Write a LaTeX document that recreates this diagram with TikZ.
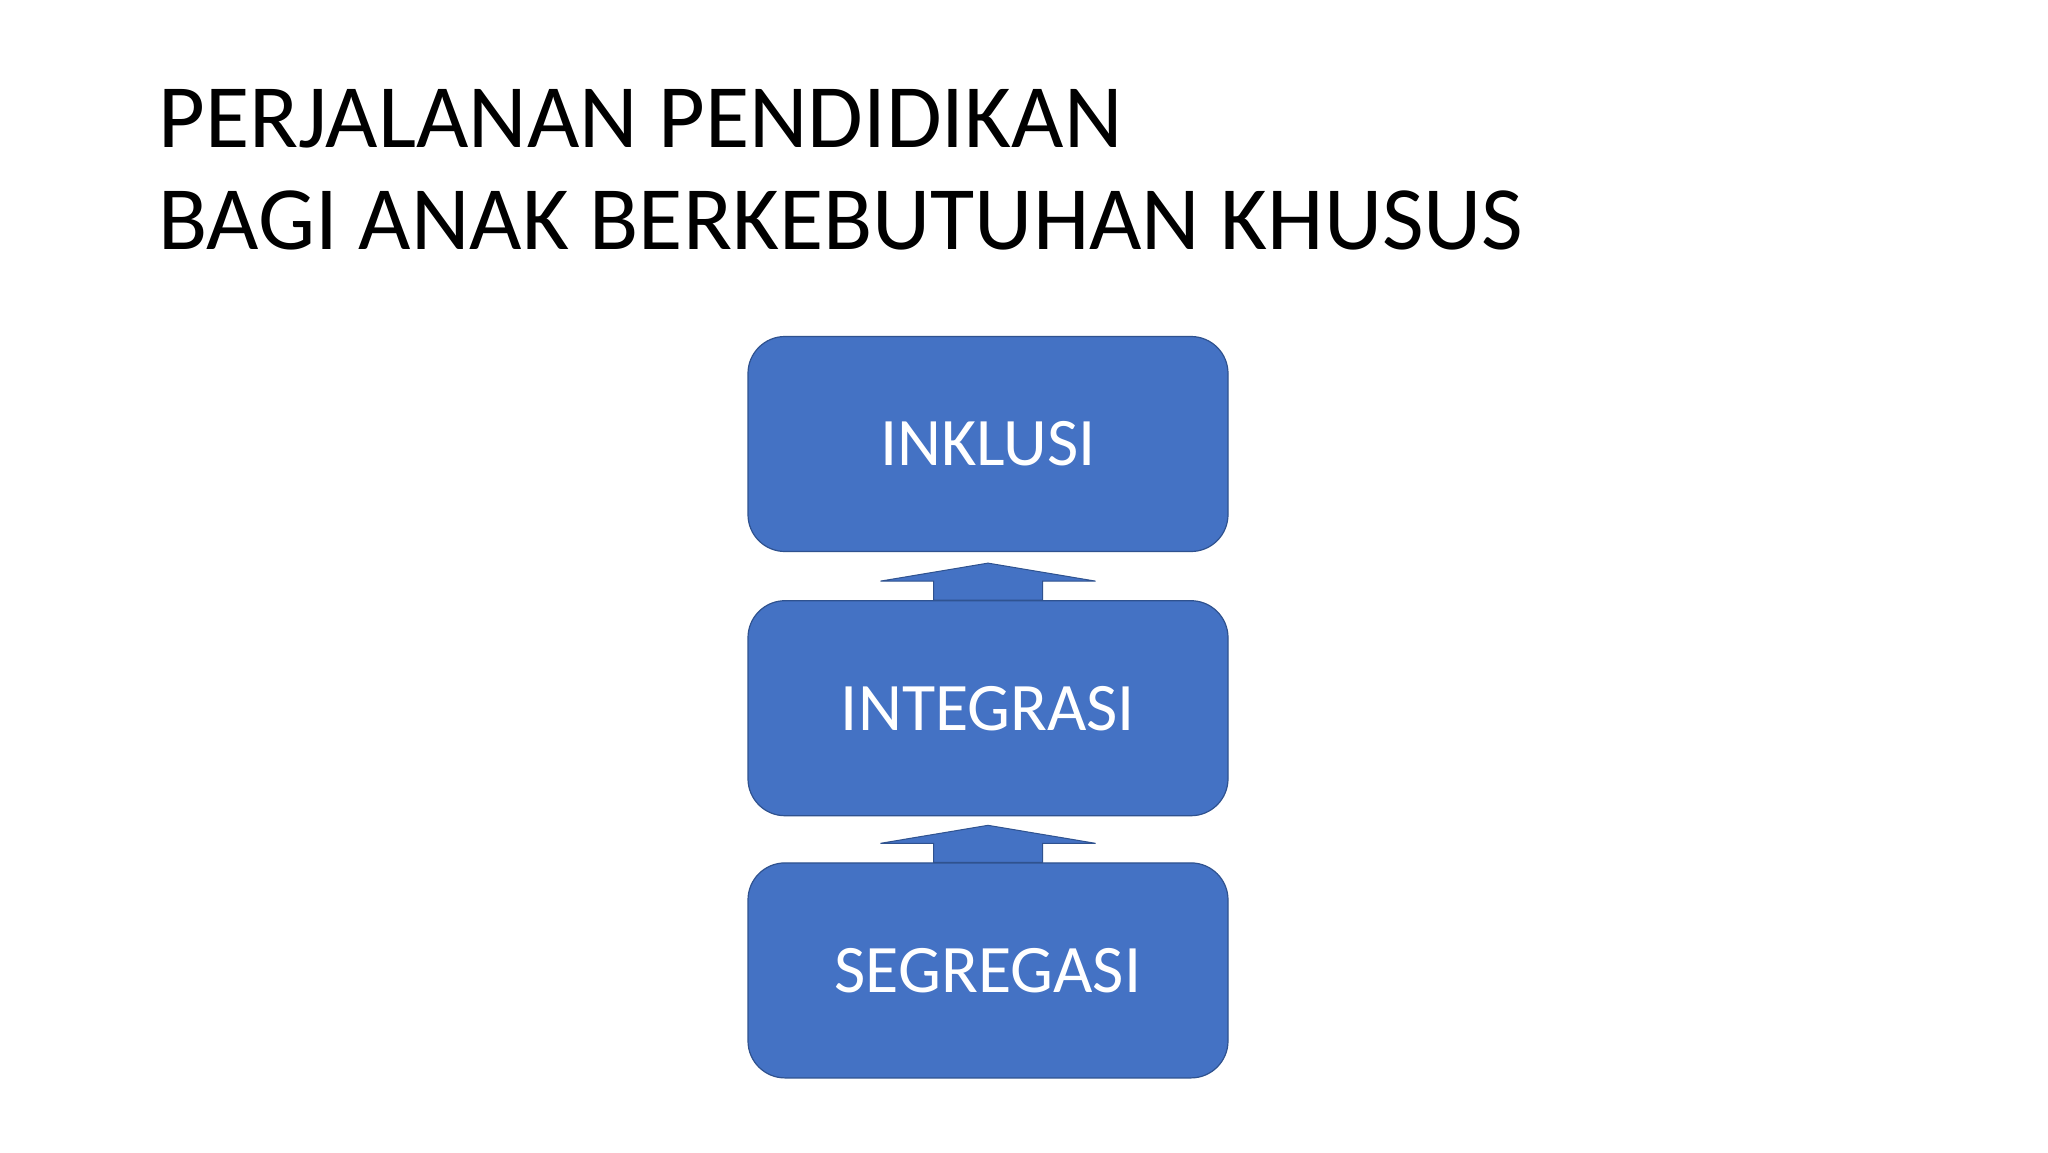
\documentclass[tikz,border=0pt]{standalone}
\usepackage{fontspec}
\setmainfont{Carlito}
\usepackage{tikz}
\usetikzlibrary{positioning,calc}
\usepackage{xcolor}
\definecolor{boxblue}{HTML}{4472C4}
\definecolor{boxedge}{HTML}{2F528F}

\begin{document}
\begin{tikzpicture}[x=1pt,y=-1pt,
		stage/.style={draw=boxedge, fill=boxblue, line width=1.2pt, rounded corners=37pt,
			minimum width=480pt, minimum height=215pt, text=white,
			font=\fontsize{68}{68}\selectfont},
		uparrow/.style={draw=boxedge, fill=boxblue, line width=1pt}]
		\useasboundingbox[fill=white] (0,0) rectangle (2048,1152);

		% Title
		\node[anchor=base west, font=\fontsize{90.5}{100}\selectfont] (title1) at (155,147) {PERJALANAN PENDIDIKAN};
		\node[anchor=base west, font=\fontsize{90.5}{100}\selectfont] (title2) at (155,249) {BAGI ANAK BERKEBUTUHAN KHUSUS};

		% Stages
		\node[stage] (inkl) at (988,444) {INKLUSI};
		\node[stage, below=48pt of inkl] (integ) {INTEGRASI};
		\node[stage, below=46pt of integ] (segr) {SEGREGASI};

		% Block arrows between stages
		\foreach \lo/\hi in {integ/inkl, segr/integ} {
			\draw[uparrow] ($(\lo.north)+(-54.5,0)$) -- ++(0,-19) -- ++(-53,0)
				-- ($(\lo.north)+(0,-37)$) -- ($(\lo.north)+(107.5,-19)$)
				-- ++(-53,0) -- ($(\lo.north)+(54.5,0)$) -- cycle;
		}
	\end{tikzpicture}
\end{document}
